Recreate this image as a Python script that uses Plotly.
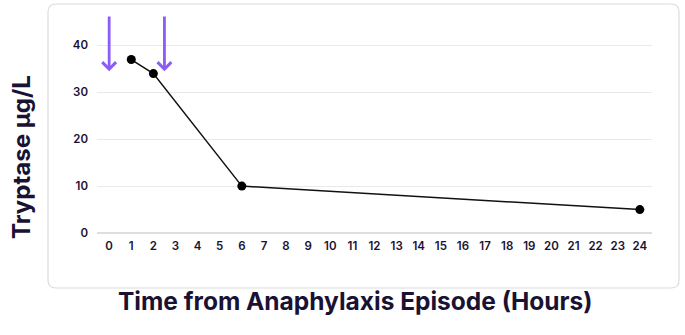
import plotly.graph_objects as go

hours = [1, 2, 6, 24]
tryptase = [37, 34, 10, 5]
x_ticks = list(range(0, 25))
y_ticks = [0, 10, 20, 30, 40]
arrow_hours = [0, 2.5]
arrow_tip = 34.5
arrow_start = 46.5

W, H = 685, 335
L, R, T, B = 97, 33, 22, 102
pw, ph = W - L - R, H - T - B

def px_to_paper(px, py):
    return (px - L) / pw, (H - B - py) / ph

fig = go.Figure()
fig.add_trace(go.Scatter(
    x=hours, y=tryptase, mode="lines+markers",
    line=dict(color="#111111", width=1.5),
    marker=dict(color="#000000", size=9),
    showlegend=False, cliponaxis=False,
))

# card (rounded rectangle)
x0, y0 = px_to_paper(48, 288)
x1, y1 = px_to_paper(679, 4)
rx, ry = 8 / pw, 8 / ph
path = (f"M {x0+rx},{y0} L {x1-rx},{y0} Q {x1},{y0} {x1},{y0+ry} "
        f"L {x1},{y1-ry} Q {x1},{y1} {x1-rx},{y1} L {x0+rx},{y1} "
        f"Q {x0},{y1} {x0},{y1-ry} L {x0},{y0+ry} Q {x0},{y0} {x0+rx},{y0} Z")
fig.add_shape(type="path", path=path, xref="paper", yref="paper",
              line=dict(color="#dcdcdc", width=1.2), fillcolor="rgba(0,0,0,0)", layer="below")

for h in arrow_hours:
    fig.add_annotation(x=h, y=arrow_tip, ax=h, ay=arrow_start, xref="x", yref="y",
                       axref="x", ayref="y", text="", showarrow=True,
                       arrowhead=4, arrowsize=0.95, arrowwidth=2.8, arrowcolor="#8b5cf6")

navy = "#1a1233"
tx, ty = px_to_paper(355, 301)
fig.add_annotation(x=tx, y=ty, xref="paper", yref="paper", xanchor="center", yanchor="middle",
                   text="<b>Time from Anaphylaxis Episode (Hours)</b>",
                   showarrow=False, font=dict(family="Inter", size=24.5, color=navy))
tx, ty = px_to_paper(21, 157)
fig.add_annotation(x=tx, y=ty, xref="paper", yref="paper", xanchor="center", yanchor="middle",
                   text="<b>Tryptase µg/L</b>", textangle=-90,
                   showarrow=False, font=dict(family="Inter", size=24, color=navy))

fig.update_layout(
    width=W, height=H, margin=dict(l=L, r=R, t=T, b=B),
    paper_bgcolor="white", plot_bgcolor="white",
    font=dict(family="Inter", size=11.5, color=navy, weight=600),
)
fig.update_xaxes(range=[-0.55, 24.55], tickmode="array", tickvals=x_ticks,
                 ticktext=[str(v) for v in x_ticks], showgrid=False, zeroline=False,
                 showline=False, ticks="", ticklabelstandoff=4)
fig.update_yaxes(range=[0, 45], tickmode="array", tickvals=y_ticks,
                 showgrid=True, gridcolor="#e9e9e9", gridwidth=1, zeroline=True,
                 zerolinecolor="#dedede", zerolinewidth=1.5, showline=False, ticks="",
                 ticklabelstandoff=8)

fig.write_html("out.html", config={"displayModeBar": False},
               post_script="document.body.style.margin='0';")
